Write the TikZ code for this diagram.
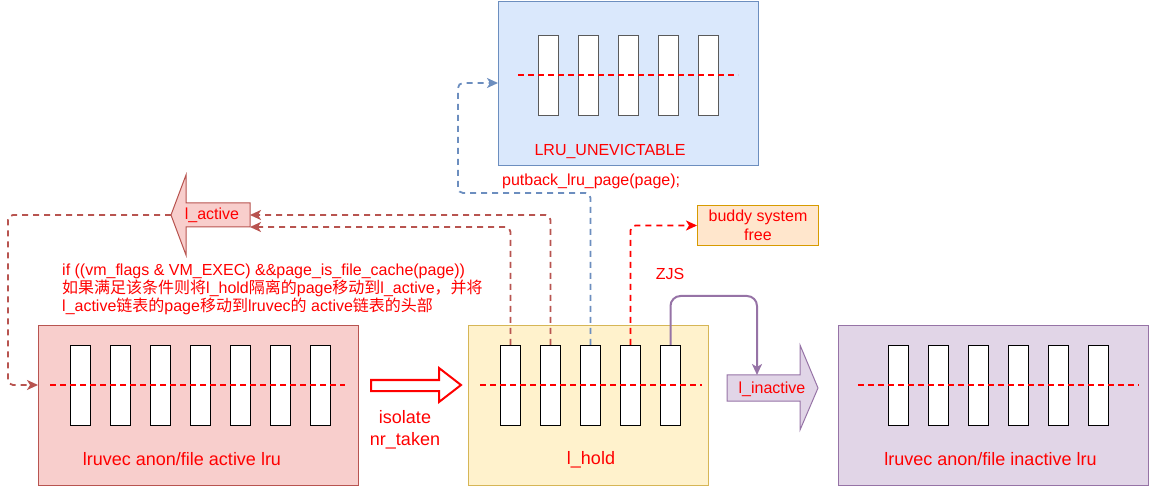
\documentclass[tikz,border=0pt]{standalone}
\usepackage{fontspec}
\setmainfont{Liberation Sans}
\newfontfamily\cjk{Noto Sans CJK SC}
\usetikzlibrary{arrows.meta}
\definecolor{unevF}{HTML}{DAE8FC}\definecolor{unevS}{HTML}{6C8EBF}
\definecolor{actF}{HTML}{F8CECC}\definecolor{actS}{HTML}{B85450}
\definecolor{holdF}{HTML}{FFF2CC}\definecolor{holdS}{HTML}{D6B656}
\definecolor{inaF}{HTML}{E1D5E7}\definecolor{inaS}{HTML}{9673A6}
\definecolor{budF}{HTML}{FFE6CC}\definecolor{budS}{HTML}{D79B00}
\definecolor{pgGray}{HTML}{5A5A5A}
\tikzset{
  pg/.style={draw=black, fill=white, line width=1pt, minimum width=20pt, minimum height=80pt, inner sep=0pt, anchor=north west},
  bigbox/.style={line width=1pt, inner sep=0pt, anchor=north west},
  lbl/.style={text=red, font=\fontsize{18}{21.6}\selectfont, inner sep=0pt, anchor=base},
  sl/.style={text=red, font=\fontsize{16}{19.3}\selectfont, inner sep=0pt},
  redline/.style={red, line width=2pt, dash pattern=on 6pt off 4pt},
  tip/.style={-{Stealth[length=11pt,width=10pt,inset=3pt]}},
  con/.style={line width=1.8pt, dash pattern=on 6pt off 5pt, rounded corners=5pt, tip},
  conP/.style={line width=2pt, inaS, rounded corners=10pt, tip},
}
\begin{document}
\begin{tikzpicture}[x=1pt,y=-1pt]
\useasboundingbox (0,0) rectangle (1149,486);
% containers
\node[bigbox, draw=unevS, fill=unevF, minimum width=260pt, minimum height=164pt] (unev) at (498,1) {};
\node[bigbox, draw=actS, fill=actF, minimum width=320pt, minimum height=160pt] (act) at (38,325) {};
\node[bigbox, draw=holdS, fill=holdF, minimum width=240pt, minimum height=160pt] (hold) at (468,325) {};
\node[bigbox, draw=inaS, fill=inaF, minimum width=310pt, minimum height=160pt] (ina) at (838,325) {};
\node[bigbox, draw=budS, fill=budF, minimum width=121pt, minimum height=40pt, align=center,
      text=red, font=\fontsize{16}{19.3}\selectfont] (buddy) at (697,205) {buddy system\\free};
% pages
\foreach \i in {1,...,5} \node[pg, draw=pgGray] (u\i) at ({538+40*(\i-1)},35) {};
\foreach \i in {1,...,7} \node[pg] (a\i) at ({70+40*(\i-1)},345) {};
\foreach \i in {1,...,5} \node[pg] (h\i) at ({500+40*(\i-1)},345) {};
\foreach \i in {1,...,6} \node[pg] (n\i) at ({888+40*(\i-1)},345) {};
% list lines
\draw[redline] (518,75) -- (738,75);
\draw[redline] (50,385) -- (345,385);
\draw[redline] (480,385) -- (702,385);
\draw[redline] (858,385) -- (1139,385);
% isolate arrow
\draw[red, line width=2pt, fill=white, line join=miter] (371,380) -- (439,380) -- (439,368) -- (461,385) -- (439,402) -- (439,391) -- (371,391) -- cycle;
\node[lbl] (iso1) at (405,423.5) {isolate};
\node[lbl] (iso2) at (405,445) {nr\_taken};
% l_active arrow
\draw[draw=actS, fill=actF, line width=1pt] (250,203) -- (186,203) -- (186,175) -- (171,215) -- (186,255) -- (186,227) -- (250,227) -- cycle;
\coordinate (lactTip) at (171,215);
\coordinate (lactR1) at (250,215);
\coordinate (lactR2) at (250,227);
\node[sl, anchor=base] (lactL) at (212,220) {l\_active};
% l_inactive arrow
\draw[draw=inaS, fill=inaF, line width=1pt] (727,375) -- (800,375) -- (800,345) -- (818,388) -- (800,430) -- (800,401) -- (727,401) -- cycle;
\coordinate (linTop) at (757,375);
\node[sl, anchor=base] (linL) at (772,393.3) {l\_inactive};
% connectors
\coordinate (actIn) at (38,385);
\coordinate (unevIn) at (498,83);
\draw[con, actS] (lactTip) -| (8,385) -- (actIn);
\draw[con, actS] (h1.north) |- (lactR2);
\draw[con, actS] (h2.north) |- (lactR1);
\draw[con, unevS] (h3.north) |- (458,193) |- (unevIn);
\draw[con, red] (h4.north) |- (buddy.west);
\draw[conP] (h5.north) |- (757,296) -- (linTop);
% texts
\node[sl, anchor=base] (unevL) at (610,156) {LRU\_UNEVICTABLE};
\node[sl, anchor=base west] (pb) at (502,186) {putback\_lru\_page(page);};
\node[sl, anchor=base] (zjs) at (670,280) {ZJS};
\node[lbl] (actL) at (182,465.5) {lruvec anon/file active lru};
\node[lbl] (holdL) at (591,464) {l\_hold};
\node[lbl] (inaL) at (990.5,465) {lruvec anon/file inactive lru};
\node[sl, anchor=base west] (c1) at (62,276) {if ((vm\_flags \& VM\_EXEC) \&\&page\_is\_file\_cache(page))};
\node[sl, anchor=base west] (c2) at (62,294) {{\cjk 如果满足该条件则将}l\_hold{\cjk 隔离的}page{\cjk 移动到}l\_active{\cjk ，并将}};
\node[sl, anchor=base west] (c3) at (62,312) {l\_active{\cjk 链表的}page{\cjk 移动到}lruvec{\cjk 的} active{\cjk 链表的头部}};
\end{tikzpicture}
\end{document}
